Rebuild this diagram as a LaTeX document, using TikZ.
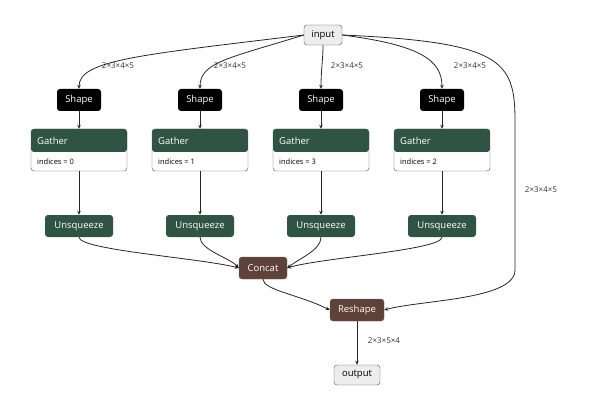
\documentclass[tikz,border=0pt]{standalone}
\usepackage{fontspec}
\setmainfont{Open Sans}
\usetikzlibrary{arrows.meta}
\definecolor{gr}{HTML}{2F5443}
\definecolor{br}{HTML}{5E4139}
\begin{document}
\begin{tikzpicture}[x=1pt,y=-1pt,
  box/.style={rounded corners=3pt,minimum height=22pt,inner sep=2pt,font=\fontsize{9.5}{11}\selectfont},
  io/.style={box,draw=black!70,fill=black!7,text=black,minimum height=20pt},
  shp/.style={box,fill=black,text=white,minimum width=44pt},
  grn/.style={box,fill=gr,text=white,minimum width=68pt},
  brn/.style={box,fill=br,text=white,draw=black!60},
  gbox/.style={rounded corners=3pt,draw=black!70,minimum width=96pt,minimum height=42pt,inner sep=0pt,
    path picture={\fill[gr] (path picture bounding box.north west) rectangle ([yshift=-23pt]path picture bounding box.north east);}},
  gt/.style={font=\fontsize{9.5}{11}\selectfont,text=white,anchor=west,inner sep=0pt},
  gi/.style={font=\fontsize{7.5}{9}\selectfont,anchor=west,inner sep=0pt},
  lab/.style={font=\fontsize{8}{9}\selectfont,text=black!80,inner sep=1pt},
  e/.style={draw=black!85,line width=0.8pt,-{Stealth[length=4pt,width=3.5pt]}}]
\useasboundingbox (0,0) rectangle (600,409);
\node[io,minimum width=38pt] (in) at (323,35) {input};
\foreach \i/\x/\k in {1/79/0,2/200/1,3/321/3,4/442/2}{
  \node[shp] (s\i) at (\x,100) {Shape};
  \node[gbox] (g\i) at (\x,150) {};
  \node[gt] (gt\i) at (\x-42,141) {Gather};
  \node[gi] (gi\i) at (\x-42,162) {indices = \k};
  \node[grn] (u\i) at (\x,226) {Unsqueeze};
  \draw[e] (s\i) -- (g\i);
  \draw[e] (g\i) -- (u\i);
}
\node[brn,minimum width=48pt] (c) at (263,268) {Concat};
\node[brn,minimum width=54pt] (r) at (357,310) {Reshape};
\node[io,minimum width=46pt] (out) at (357,375) {output};
\draw[e] (in.west) .. controls (140,55) and (79,60) .. (s1.north);
\draw[e] (in.west) .. controls (230,58) and (200,62) .. (s2.north);
\draw[e] (in.south) .. controls (323,60) and (321,70) .. (s3.north);
\draw[e] (in.east) .. controls (420,45) and (442,60) .. (s4.north);
\draw[e] (in.east) .. controls (500,42) and (515,60) .. (515,120) -- (515,270) .. controls (515,300) and (420,300) .. (r.east);
\node[lab] (l1) at (118,66) {2×3×4×5};
\node[lab] (l2) at (230,66) {2×3×4×5};
\node[lab] (l3) at (347,66) {2×3×4×5};
\node[lab] (l4) at (470,66) {2×3×4×5};
\node[lab] (l5) at (541,190) {2×3×4×5};
\node[lab] (l6) at (384,341) {2×3×5×4};
\draw[e] (u1.south) .. controls (79,250) and (200,258) .. (c.west);
\draw[e] (u2.south) .. controls (200,250) and (230,258) .. (c.west);
\draw[e] (u3.south) .. controls (321,250) and (300,258) .. (c.east);
\draw[e] (u4.south) .. controls (442,250) and (320,258) .. (c.east);
\draw[e] (c.south) .. controls (263,290) and (300,295) .. (r.west);
\draw[e] (r) -- (out);
\end{tikzpicture}
\end{document}
